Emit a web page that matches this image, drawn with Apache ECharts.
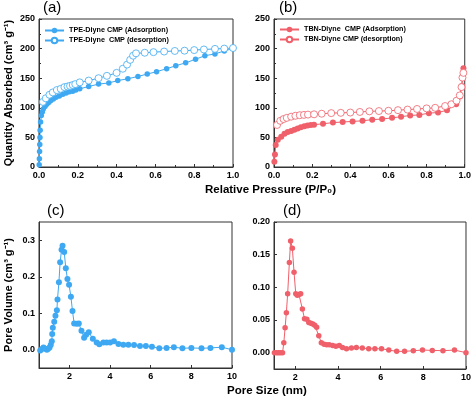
<!DOCTYPE html>
<html><head><meta charset="utf-8">
<script src="https://cdn.jsdelivr.net/npm/echarts@6/dist/echarts.min.js"></script>
<style>html,body{margin:0;padding:0;background:#fff}#c{width:474px;height:399px}</style>
</head><body><div id="c"></div>
<script>
const aAdsX=[0.001,0.002,0.003,0.004,0.005,0.006,0.008,0.012,0.017,0.022,0.031,0.04,0.05,0.06,0.074,0.088,0.105,0.123,0.14,0.157,0.174,0.19,0.21,0.256,0.307,0.36,0.406,0.458,0.51,0.558,0.606,0.658,0.705,0.756,0.807,0.855,0.907,0.955,0.998];
const aAdsY=[4,14,26,38,50,62,76,87,93,98,102,106,109,112,115,118,120,123,125,127,128,130,132,136,140,142,146,149,153,157,161,166,171,176,182,188,191,196,200];
const aDesX=[0.02,0.035,0.054,0.071,0.092,0.112,0.131,0.147,0.16,0.174,0.187,0.21,0.256,0.307,0.35,0.4,0.432,0.454,0.47,0.485,0.5,0.545,0.59,0.645,0.7,0.75,0.8,0.85,0.907,0.955,1.0];
const aDesY=[110,116,122,126,130,132,135,136,137,138.5,140,143,146,150,154,159,166,173,181,188,192,193,194,195,196,196.5,197.5,198.5,199.5,200,201];
const bAdsX=[0.002,0.005,0.009,0.02,0.038,0.055,0.072,0.09,0.107,0.124,0.141,0.159,0.176,0.193,0.21,0.257,0.309,0.36,0.412,0.464,0.515,0.567,0.619,0.666,0.714,0.762,0.812,0.86,0.907,0.955,0.975,0.985,0.993];
const bAdsY=[9,21,37,46,51,56,59,61,63,65,67,69,70,71,71.5,73,75,76,77,78,80,81,83,85,87,88,91,92,96,106,119,137,167];
const bDesX=[0.016,0.033,0.05,0.067,0.09,0.112,0.135,0.157,0.178,0.21,0.25,0.3,0.35,0.4,0.45,0.5,0.55,0.6,0.65,0.7,0.75,0.8,0.845,0.897,0.93,0.957,0.974,0.983,0.988,0.993];
const bDesY=[71,78,81,83,85,86.5,87.5,88,88.5,89,90,91,91.5,92,93,94,94.5,95,96,97,98,99,100,103,106,112,121,135,151,159];
const cX=[0.56,0.64,0.72,0.81,0.89,0.95,1.02,1.08,1.13,1.15,1.18,1.25,1.31,1.38,1.41,1.48,1.54,1.61,1.66,1.74,1.82,1.9,1.98,2.07,2.15,2.23,2.36,2.46,2.59,2.72,2.82,2.95,3.15,3.34,3.47,3.67,3.83,4.0,4.19,4.41,4.65,4.9,5.18,5.47,5.76,6.06,6.42,6.78,7.14,7.56,8.0,8.5,8.94,9.5,10.0];
const cY=[-0.002,0.002,0.006,0.003,0,0.003,0.006,0.014,0.023,0.043,0.06,0.077,0.093,0.108,0.138,0.185,0.24,0.274,0.285,0.268,0.223,0.194,0.178,0.145,0.106,0.072,0.071,0.072,0.052,0.033,0.041,0.048,0.03,0.02,0.015,0.02,0.02,0.02,0.023,0.016,0.014,0.014,0.013,0.01,0.01,0.008,0.004,0.005,0.007,0.004,0.005,0.004,0.005,0.007,0.0];
const dX=[1.02,1.12,1.21,1.3,1.4,1.46,1.52,1.58,1.64,1.72,1.78,1.86,1.94,2.02,2.09,2.17,2.25,2.33,2.43,2.54,2.63,2.73,2.82,2.91,3.0,3.1,3.22,3.35,3.47,3.59,3.75,3.9,4.06,4.21,4.4,4.63,4.86,5.14,5.44,5.73,6.04,6.38,6.75,7.12,7.53,7.96,8.42,8.92,9.46,10.0];
const dY=[0,0,0,0,0,0.015,0.038,0.061,0.09,0.138,0.171,0.16,0.123,0.09,0.088,0.089,0.09,0.067,0.052,0.051,0.046,0.045,0.044,0.042,0.039,0.026,0.015,0.013,0.012,0.012,0.011,0.01,0.011,0.008,0.006,0.007,0.008,0.007,0.006,0.006,0.006,0.004,0.002,0.002,0.003,0.004,0.0035,0.003,0.004,0.0];
const poreXTicks=[2,4,6,8,10];
const cYTicks=[0,0.1,0.2,0.3];
const dYTicks=[0,0.05,0.1,0.15,0.2];
const names=['TPE-Diyne CMP (Adsorption)','TPE-Diyne  CMP (desorption)','TBN-Diyne  CMP (Adsorption)','TBN-Diyne CMP (desorption)'];

const BLUE='#3ea9f2', RED='#f0606a', AX='#333';
const pair=(xs,ys)=>xs.map((x,i)=>[x,ys[i]]);
const font='Liberation Sans, Arial, sans-serif';
const lab={color:'#000',fontWeight:'bold',fontSize:9,fontFamily:font};
function xAx(gi,min,max,opt){
  return Object.assign({type:'value',gridIndex:gi,min:min,max:max,
    axisLine:{show:true,onZero:false,lineStyle:{color:AX,width:1}},
    axisTick:{show:true,inside:true,length:3,lineStyle:{color:AX}},
    minorTick:{show:true,splitNumber:2,length:2,lineStyle:{color:AX}},
    splitLine:{show:false},
    axisLabel:Object.assign({margin:4},lab)},opt);
}
const grids=[
  {left:39,top:19,width:194,height:148},
  {left:274,top:19,width:193,height:148},
  {left:39,top:222,width:193,height:146},
  {left:274,top:222,width:194,height:147}
].map(g=>Object.assign(g,{show:true,borderColor:AX,borderWidth:1,backgroundColor:'transparent'}));

const option={
  animation:false,
  backgroundColor:'#fff',
  grid:grids,
  xAxis:[
    xAx(0,0,1,{interval:0.2,axisLabel:Object.assign({margin:4,formatter:v=>v.toFixed(1)},lab)}),
    xAx(1,0,1,{interval:0.2,axisLabel:Object.assign({margin:4,formatter:v=>v.toFixed(1)},lab)}),
    xAx(2,0.5,10,{axisLabel:Object.assign({margin:4,customValues:poreXTicks},lab),axisTick:{show:true,inside:true,length:3,customValues:poreXTicks,lineStyle:{color:AX}},minorTick:{show:false}}),
    xAx(3,1,10,{axisLabel:Object.assign({margin:4,customValues:poreXTicks},lab),axisTick:{show:true,inside:true,length:3,customValues:poreXTicks,lineStyle:{color:AX}},minorTick:{show:false}})
  ],
  yAxis:[
    xAx(0,0,250,{interval:50,name:'Quantity Absorbed (cm³ g⁻¹)',nameLocation:'middle',nameGap:25,nameTextStyle:{fontSize:11,fontWeight:'bold',color:'#000',fontFamily:font}}),
    xAx(1,0,250,{interval:50}),
    xAx(2,-0.05,0.35,{name:'Pore Volume (cm³ g⁻¹)',nameLocation:'middle',nameGap:25,nameTextStyle:{fontSize:11,fontWeight:'bold',color:'#000',fontFamily:font},
      axisLabel:Object.assign({margin:4,customValues:cYTicks,formatter:v=>v.toFixed(1)},lab),axisTick:{show:true,inside:true,length:3,customValues:cYTicks,lineStyle:{color:AX}},minorTick:{show:false}}),
    xAx(3,-0.025,0.2,{axisLabel:Object.assign({margin:4,customValues:dYTicks,formatter:v=>v.toFixed(2)},lab),axisTick:{show:true,inside:true,length:3,customValues:dYTicks,lineStyle:{color:AX}},minorTick:{show:false}})
  ],
  legend:[
    {data:[names[0],names[1]],orient:'vertical',left:39,top:21,itemWidth:19,itemHeight:7,itemGap:1,
      textStyle:{fontSize:7.2,fontWeight:'bold',color:'#000',fontFamily:font,lineHeight:9}},
    {data:[names[2],names[3]],orient:'vertical',left:274,top:20,itemWidth:19,itemHeight:7,itemGap:1,
      textStyle:{fontSize:7.2,fontWeight:'bold',color:'#000',fontFamily:font,lineHeight:9}}
  ],
  title:[
    {text:'(a)',left:38,top:-5,textStyle:{fontSize:15,fontWeight:'normal',color:'#000',fontFamily:font}},
    {text:'(b)',left:274,top:-5,textStyle:{fontSize:15,fontWeight:'normal',color:'#000',fontFamily:font}},
    {text:'(c)',left:42,top:198,textStyle:{fontSize:15,fontWeight:'normal',color:'#000',fontFamily:font}},
    {text:'(d)',left:278,top:198,textStyle:{fontSize:15,fontWeight:'normal',color:'#000',fontFamily:font}},
    {text:'Relative Pressure (P/P₀)',left:200,top:179,textStyle:{fontSize:11.5,fontWeight:'bold',color:'#000',fontFamily:font}},
    {text:'Pore Size (nm)',left:222,top:380,textStyle:{fontSize:11.5,fontWeight:'bold',color:'#000',fontFamily:font}}
  ],
  series:[
    {name:names[0],type:'line',xAxisIndex:0,yAxisIndex:0,data:pair(aAdsX,aAdsY),symbol:'circle',symbolSize:5.5,
      lineStyle:{color:BLUE,width:1},itemStyle:{color:BLUE}},
    {name:names[1],type:'line',xAxisIndex:0,yAxisIndex:0,data:pair(aDesX,aDesY),symbol:'circle',symbolSize:7,
      lineStyle:{color:BLUE,width:1},itemStyle:{color:'#fff',borderColor:BLUE,borderWidth:0.8}},
    {name:names[2],type:'line',xAxisIndex:1,yAxisIndex:1,data:pair(bAdsX,bAdsY),symbol:'circle',symbolSize:6,
      lineStyle:{color:RED,width:1},itemStyle:{color:RED}},
    {name:names[3],type:'line',xAxisIndex:1,yAxisIndex:1,data:pair(bDesX,bDesY),symbol:'circle',symbolSize:7,
      lineStyle:{color:RED,width:1},itemStyle:{color:'#fff',borderColor:RED,borderWidth:0.8}},
    {name:'c',type:'line',xAxisIndex:2,yAxisIndex:2,data:pair(cX,cY),symbol:'circle',symbolSize:6,
      lineStyle:{color:BLUE,width:1},itemStyle:{color:BLUE}},
    {name:'d',type:'line',xAxisIndex:3,yAxisIndex:3,data:pair(dX,dY),symbol:'circle',symbolSize:5.5,
      lineStyle:{color:RED,width:1},itemStyle:{color:RED}}
  ]
};
const chart=echarts.init(document.getElementById('c'),null,{renderer:'canvas'});
chart.setOption(option);
</script></body></html>
